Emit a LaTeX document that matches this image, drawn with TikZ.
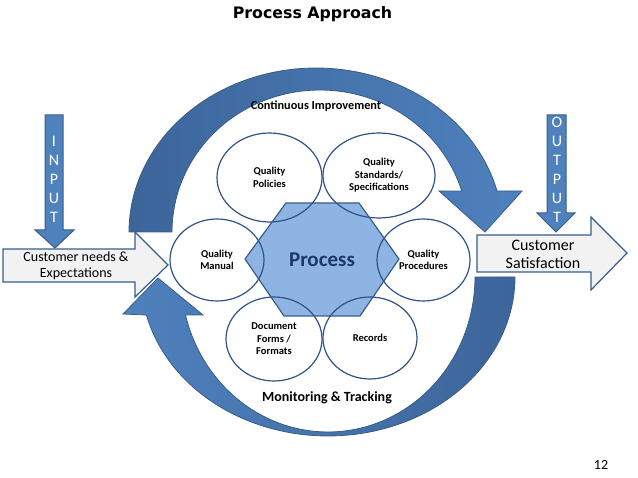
\documentclass[tikz,border=0pt]{standalone}
\usepackage{fontspec}
\setmainfont{Carlito}
\newfontfamily\titlefont{DejaVu Sans}
\usetikzlibrary{shapes.geometric}
\definecolor{bandDark}{RGB}{60,101,154}
\definecolor{bandLight}{RGB}{79,129,189}
\definecolor{bandEdge}{RGB}{56,93,138}
\definecolor{hexFill}{RGB}{142,180,227}
\definecolor{procNavy}{RGB}{28,54,110}
\definecolor{ringEdge}{RGB}{47,82,135}
\definecolor{boxGray}{RGB}{242,242,242}
\tikzset{
  ring/.style={draw=ringEdge, line width=1.2pt, ellipse, inner sep=0pt, align=center,
    font=\fontsize{10.5}{12.5}\selectfont\bfseries},
  grayarrow/.style={fill=boxGray, draw=bandEdge, line width=1.2pt, line join=miter},
  bluearrow/.style={fill=bandLight, draw=bandEdge, line width=1pt},
  letters/.style={text=white, align=center, font=\fontsize{16}{19}\selectfont, inner sep=0pt},
  band/.style={draw=bandEdge, line width=0.8pt}
}
\begin{document}
\begin{tikzpicture}[x=1pt,y=-1pt]
\useasboundingbox (0,0) rectangle (638,478);
% top band (Continuous Improvement)
\path[band, left color=bandDark, right color=bandLight]
  (129,232) -- plot[domain=180:345.52, samples=80, variable=\t] ({316+187*cos(\t)},{232+164*sin(\t)})
  -- (522,191) -- (485,232) -- (439,191)
  -- plot[domain=343.22:180, samples=80, variable=\t] ({320+148*cos(\t)},{232+142*sin(\t)})
  -- cycle;
% bottom band (Monitoring & Tracking)
\path[band, left color=bandLight, right color=bandDark]
  (515,277) -- plot[domain=0:166.17, samples=80, variable=\t] ({328+187*cos(\t)},{277+159*sin(\t)})
  -- (123,314) -- (158,278) -- (203,315)
  -- plot[domain=165.81:0, samples=80, variable=\t] ({328+147*cos(\t)},{277+155*sin(\t)})
  -- cycle;
% hexagon
\path[fill=hexFill, draw=bandEdge, line width=1.2pt]
  (286,203) -- (359,203) -- (399,259) -- (360,316) -- (284,316) -- (245,259) -- cycle;
\node[text=procNavy, font=\fontsize{21}{24}\selectfont\bfseries] (proc) at (322,260) {Process};
% ellipses
\node[ring, minimum width=105pt, minimum height=89pt] (pol) at (269.5,177.5) {Quality\\Policies};
\node[ring, minimum width=112pt, minimum height=85pt] (std) at (379,175.5) {Quality\\Standards/\\Specifications};
\node[ring, minimum width=94pt, minimum height=82pt] (man) at (217,260) {Quality\\Manual};
\node[ring, minimum width=93pt, minimum height=82pt] (prc) at (423.5,260) {Quality\\Procedures};
\node[ring, minimum width=96pt, minimum height=84pt] (doc) at (274,339) {Document\\Forms /\\Formats};
\node[ring, minimum width=94pt, minimum height=82pt] (rec) at (370,338) {Records};
% input / output arrows
\path[grayarrow] (3,249) -- (135,249) -- (135,232) -- (168,265) -- (135,297) -- (135,282) -- (3,282) -- cycle;
\node[align=center, font=\fontsize{14}{16}\selectfont] (need) at (76,266) {Customer needs \&\\Expectations};
\path[grayarrow] (477,235) -- (591,235) -- (591,217) -- (627,253) -- (591,290) -- (591,272) -- (477,272) -- cycle;
\node[align=center, font=\fontsize{16}{18}\selectfont] (sat) at (543,254) {Customer\\Satisfaction};
\path[bluearrow] (45,115) -- (63,115) -- (63,230) -- (74,230) -- (55,248) -- (35,230) -- (45,230) -- cycle;
\node[letters] (inp) at (54,179) {I\\N\\P\\U\\T};
\path[bluearrow] (547,115) -- (566,115) -- (566,213) -- (575,213) -- (556,232) -- (537,213) -- (547,213) -- cycle;
\node[letters] (outp) at (557,170) {O\\U\\T\\P\\U\\T};
% labels
\node[anchor=base, font=\titlefont\fontsize{15.8}{18}\selectfont\bfseries] (title) at (312.5,19) {Process Approach};
\node[font=\fontsize{12.3}{14}\selectfont\bfseries] (ci) at (316,106) {Continuous Improvement};
\node[font=\fontsize{14}{16}\selectfont\bfseries] (mt) at (327,398) {Monitoring \& Tracking};
\node[font=\fontsize{14}{16}\selectfont] (pg) at (601,465) {12};
\end{tikzpicture}
\end{document}
